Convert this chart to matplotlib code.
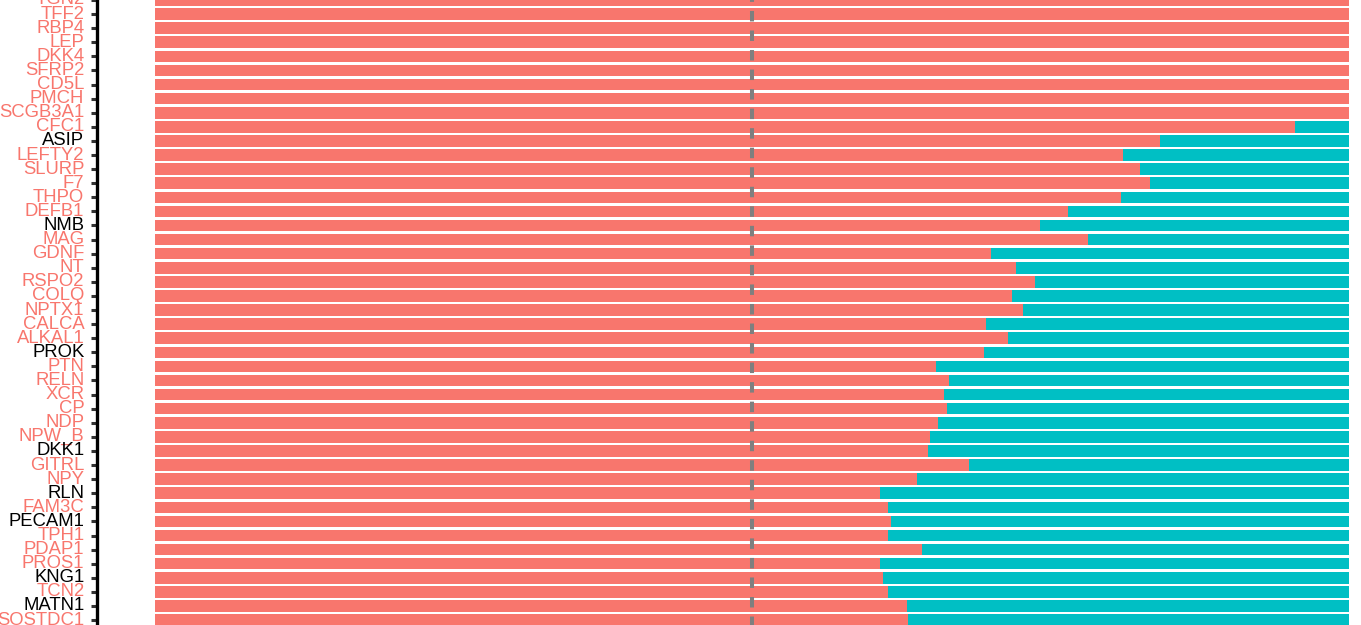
import matplotlib
matplotlib.use("Agg")
import matplotlib.pyplot as plt
import numpy as np

# rows listed top -> bottom
genes = ["TGN2", "TFF2", "RBP4", "LEP", "DKK4", "SFRP2", "CD5L", "PMCH",
         "SCGB3A1", "CFC1", "ASIP", "LEFTY2", "SLURP", "F7", "THPO", "DEFB1",
         "NMB", "MAG", "GDNF", "NT", "RSPO2", "COLQ", "NPTX1", "CALCA",
         "ALKAL1", "PROK", "PTN", "RELN", "XCR", "CP", "NDP", "NPW_B", "DKK1",
         "GITRL", "NPY", "RLN", "FAM3C", "PECAM1", "TPH1", "PDAP1", "PROS1",
         "KNG1", "TCN2", "MATN1", "SOSTDC1"]

red_frac = [1.0, 1.0, 1.0, 1.0, 1.0, 1.0, 1.0, 1.0,
            1.0, 0.955, 0.842, 0.811, 0.825, 0.833, 0.809, 0.765,
            0.741, 0.781, 0.700, 0.721, 0.737, 0.718, 0.727, 0.696,
            0.714, 0.694, 0.654, 0.665, 0.661, 0.663, 0.656, 0.649, 0.647,
            0.682, 0.638, 0.607, 0.614, 0.616, 0.614, 0.642, 0.607,
            0.610, 0.614, 0.630, 0.631]

black_labels = ["ASIP", "NMB", "PROK", "DKK1", "RLN", "PECAM1", "KNG1", "MATN1"]

RED = "#F8766D"
TEAL = "#00BFC4"

n = len(genes)
ypos = np.arange(n)[::-1]  # first gene at top
red = np.array(red_frac)

fig = plt.figure(figsize=(13.61, 6.25), dpi=100)
ax = fig.add_axes([96.5 / 1361, 0, 1 - 96.5 / 1361, 1])

ax.barh(ypos, red, left=0, height=0.82, color=RED, linewidth=0)
ax.barh(ypos, 1 - red, left=red, height=0.82, color=TEAL, linewidth=0)

# dashed 50% reference line
ax.axvline(0.5, color="#7F7F7F", linewidth=2.9, linestyle=(0.5, (2.6, 2.25)))

ax.set_xlim(-0.049, 1.01)
ax.set_ylim(-0.35, 43.66)

ax.set_yticks(ypos)
ax.set_yticklabels(genes, fontfamily="Liberation Sans", fontsize=13.3)
for lbl in ax.get_yticklabels():
    lbl.set_color("black" if lbl.get_text() in black_labels else RED)
    lbl.set_verticalalignment("center")

ax.tick_params(axis="y", length=4.3, width=2.2, color="#333333", pad=4.5)
ax.set_xticks([])

for s in ["top", "right", "bottom"]:
    ax.spines[s].set_visible(False)
ax.spines["left"].set_linewidth(2.4)
ax.spines["left"].set_color("black")

fig.savefig("out.png", dpi=100)
